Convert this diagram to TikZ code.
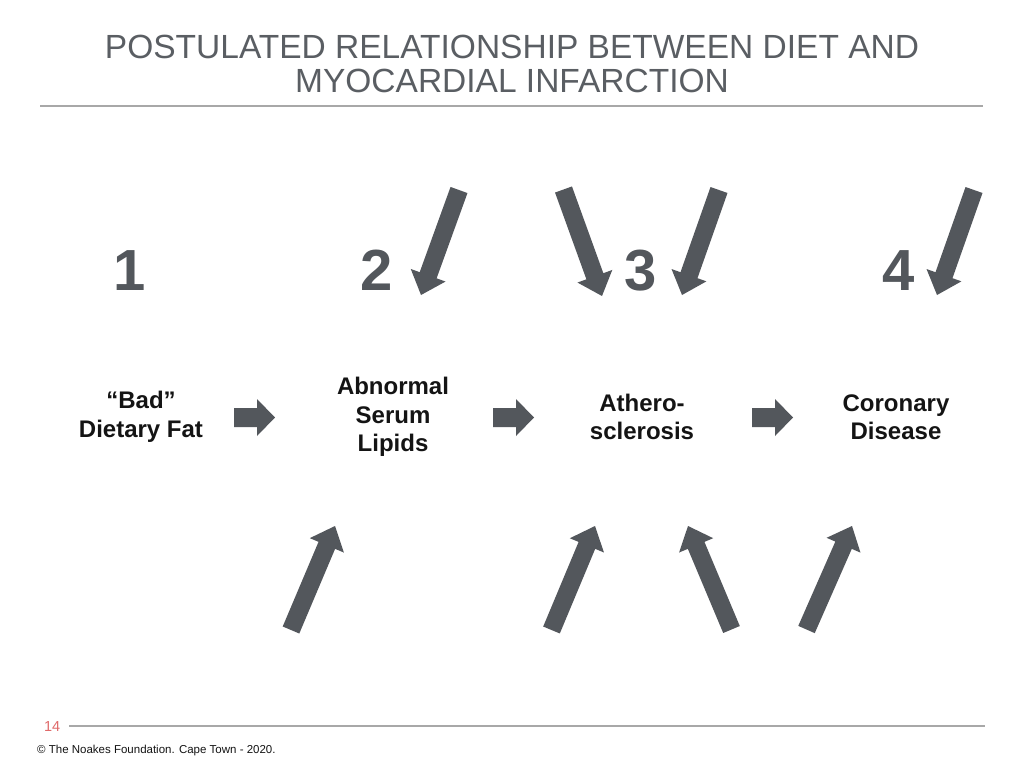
\documentclass[tikz,border=0pt]{standalone}
\usepackage{fontspec}
\setmainfont{Liberation Sans}
\usetikzlibrary{calc}
\definecolor{arrowgray}{HTML}{53575C}
\definecolor{titlegray}{HTML}{5A5E63}
\definecolor{labelblack}{HTML}{141414}
\definecolor{rulegray}{HTML}{A8A8A8}
\definecolor{pagered}{HTML}{E06A6A}
% block arrow: #1 tail, #2 tip, #3 shaft half width, #4 head half width, #5 head length
\newcommand\blockarrow[5]{%
  \coordinate (bahead) at ($(#2)!#5!(#1)$);
  \fill[arrowgray]
    ($(#1)!#3!90:(#2)$) -- ($(bahead)!#3!90:(#2)$) -- ($(bahead)!#4!90:(#2)$)
    -- (#2)
    -- ($(bahead)!#4!-90:(#2)$) -- ($(bahead)!#3!-90:(#2)$) -- ($(#1)!#3!-90:(#2)$) -- cycle;
}
\tikzset{
  titletext/.style={font=\fontsize{33.5}{40}\selectfont, text=titlegray, inner sep=0pt, anchor=base},
  numtext/.style={font=\fontsize{58}{64}\selectfont\bfseries, text=arrowgray, inner sep=0pt, anchor=base},
  labeltext/.style={font=\fontsize{24}{28.5}\selectfont\bfseries, text=labelblack, inner sep=0pt, align=center},
  rulestyle/.style={draw=rulegray, line width=1.5pt},
}
\begin{document}
\begin{tikzpicture}[x=1pt,y=-1pt]
\useasboundingbox[fill=white] (0,0) rectangle (1024,768);

% title
\node[titletext] (t1) at (512,59) {POSTULATED RELATIONSHIP BETWEEN DIET AND};
\node[titletext] (t2) at (512,92) {MYOCARDIAL INFARCTION};
\coordinate (trl) at (40,106);
\coordinate (trr) at (983,106);
\draw[rulestyle] (trl) -- (trr);

% numbers
\node[numtext] (n1) at (130,290) {1};
\node[numtext] (n2) at (377,290) {2};
\node[numtext] (n3) at (641,290) {3};
\node[numtext] (n4) at (899,290) {4};

% labels
\node[labeltext] (l1) at (141,417) {“Bad”\\Dietary Fat};
\node[labeltext] (l2) at (393,417) {Abnormal\\Serum\\Lipids};
\node[labeltext] (l3) at (642,417) {Athero-\\sclerosis};
\node[labeltext] (l4) at (896,417) {Coronary\\Disease};

% horizontal arrows
\coordinate (h1a) at (234,417.5); \coordinate (h1b) at (275,417.5);
\coordinate (h2a) at (493,417.5); \coordinate (h2b) at (534,417.5);
\coordinate (h3a) at (752,417.5); \coordinate (h3b) at (793,417.5);
\blockarrow{h1a}{h1b}{9.5pt}{18.5pt}{18pt}
\blockarrow{h2a}{h2b}{9.5pt}{18.5pt}{18pt}
\blockarrow{h3a}{h3b}{9.5pt}{18.5pt}{18pt}

% top arrows
\coordinate (a1a) at (459,190);   \coordinate (a1b) at (421,295);
\coordinate (a2a) at (563.5,189.5); \coordinate (a2b) at (602,296);
\coordinate (a3a) at (719,190);   \coordinate (a3b) at (682,295);
\coordinate (a4a) at (974,190);   \coordinate (a4b) at (937,295);
\blockarrow{a1a}{a1b}{9pt}{18.5pt}{21pt}
\blockarrow{a2a}{a2b}{9pt}{18.5pt}{21pt}
\blockarrow{a3a}{a3b}{9pt}{18.5pt}{21pt}
\blockarrow{a4a}{a4b}{9pt}{18.5pt}{21pt}

% bottom arrows
\coordinate (b1a) at (291,630);     \coordinate (b1b) at (335,526);
\coordinate (b2a) at (551.5,630);   \coordinate (b2b) at (595,526);
\coordinate (b3a) at (731.5,629.5); \coordinate (b3b) at (688,526);
\coordinate (b4a) at (806.5,629.5); \coordinate (b4b) at (852,526);
\blockarrow{b1a}{b1b}{9pt}{18.5pt}{21pt}
\blockarrow{b2a}{b2b}{9pt}{18.5pt}{21pt}
\blockarrow{b3a}{b3b}{9pt}{18.5pt}{21pt}
\blockarrow{b4a}{b4b}{9pt}{18.5pt}{21pt}

% footer
\node[font=\fontsize{14.5}{16}\selectfont, text=pagered, inner sep=0pt, anchor=base east] (pg) at (60.5,731) {14};
\coordinate (frl) at (69,726);
\coordinate (frr) at (985,726);
\draw[draw=rulegray, line width=1.3pt] (frl) -- (frr);
\node[font=\fontsize{11.5}{13}\selectfont, text=labelblack, inner sep=0pt, anchor=base west] (copy) at (37,753) {© The Noakes Foundation. Cape Town - 2020.};
\end{tikzpicture}
\end{document}
